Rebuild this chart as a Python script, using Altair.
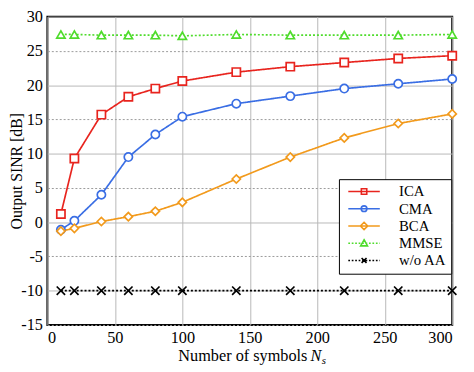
import altair as alt
import pandas as pd

ns = [10, 20, 40, 60, 80, 100, 140, 180, 220, 260, 300]
ica = [1.2, 9.3, 15.7, 18.3, 19.5, 20.6, 21.9, 22.7, 23.3, 23.9, 24.3]
cma = [-1.1, 0.2, 4.0, 9.5, 12.8, 15.4, 17.3, 18.4, 19.5, 20.2, 20.9]
bca = [-1.3, -0.9, 0.1, 0.8, 1.6, 2.9, 6.3, 9.5, 12.3, 14.4, 15.8]
mmse = [27.4, 27.4, 27.3, 27.3, 27.3, 27.2, 27.4, 27.3, 27.3, 27.3, 27.4]
woaa = [-10, -10, -10, -10, -10, -10, -10, -10, -10, -10, -10]

series = ["ICA", "CMA", "BCA", "MMSE", "w/o AA"]
colors = ["#e8241e", "#3a6ee4", "#f29a1c", "#4fdc2c", "#000000"]
dashes = [[1, 0], [1, 0], [1, 0], [2, 2], [2, 2]]
x_ticks = [0, 50, 100, 150, 200, 250, 300]
y_ticks = [-15, -10, -5, 0, 5, 10, 15, 20, 25, 30]

rows = []
for name, vals in zip(series, [ica, cma, bca, mmse, woaa]):
    for n, v in zip(ns, vals):
        rows.append({"Ns": n, "SINR": v, "series": name})
df = pd.DataFrame(rows)

FONT = "Liberation Serif"

X_PATH = "M-1,-1L1,1M-1,1L1,-1"
marker_shapes = ["square", "circle", "diamond", "triangle-up", X_PATH]
marker_sizes = [70, 72, 110, 95, 50]


def solid(a=-3.2, b=3.2):
    return f"M{a},0H{b}"


def dotted(a=-3.2, b=3.2, d=0.35, g=0.35):
    parts = []
    x = a
    while x < b:
        parts.append(f"M{x:.2f},0H{min(x + d, b):.2f}")
        x += d + g
    return "".join(parts)


sq = "M-0.55,-0.55H0.55V0.55H-0.55Z"
ci = "M0.58,0A0.58,0.58 0 1,1 -0.58,0A0.58,0.58 0 1,1 0.58,0Z"
di = "M0,-0.75L0.75,0L0,0.75L-0.75,0Z"
tr = "M0,-0.7L0.7,0.55H-0.7Z"
xx = "M-0.5,-0.5L0.5,0.5M-0.5,0.5L0.5,-0.5"
legend_paths = [solid() + sq, solid() + ci, solid() + di, dotted() + tr, dotted() + xx]

xs = alt.Scale(domain=[0, 300], nice=False, zero=False)
ys = alt.Scale(domain=[-15, 30], nice=False, zero=False)

X = alt.X("Ns:Q", scale=xs, axis=alt.Axis(values=x_ticks, title=None, labelFont=FONT, labelFontSize=16.5,
                                          labelColor="black", labelPadding=5))
Y = alt.Y("SINR:Q", scale=ys,
          axis=alt.Axis(values=y_ticks, title="Output SINR [dB]",
                        labelFont=FONT, labelFontSize=16.5, labelColor="black", labelPadding=5,
                        labelExpr="'' + datum.value",
                        titleFont=FONT, titleFontSize=16, titleFontWeight="normal", titleColor="black",
                        titleX=-23, titleBaseline="bottom", titleAngle=270,
                        gridDash=alt.condition("datum.value % 10 != 0", alt.value([2, 2]), alt.value([])),
                        gridColor=alt.condition("datum.value % 10 != 0", alt.value("#9a9a9a"), alt.value("#b8b8b8"))))

base = alt.Chart(df)

lines = base.mark_line(strokeWidth=1.7).encode(
    x=X, y=Y,
    color=alt.Color("series:N", scale=alt.Scale(domain=series, range=colors), legend=None),
    strokeDash=alt.StrokeDash("series:N", scale=alt.Scale(domain=series, range=dashes), legend=None),
)

points = base.mark_point(filled=True, fill="white", strokeWidth=1.7, opacity=1).encode(
    x=X, y=Y,
    stroke=alt.Stroke("series:N", scale=alt.Scale(domain=series, range=colors), legend=None),
    shape=alt.Shape("series:N", scale=alt.Scale(domain=series, range=marker_shapes), legend=None),
    size=alt.Size("series:N", scale=alt.Scale(domain=series, range=marker_sizes), legend=None),
)

leg = alt.Legend(
    title=None, orient="none", legendX=296, legendY=165,
    labelFont=FONT, labelFontSize=15, labelColor="black",
    symbolSize=100, symbolStrokeWidth=1.6, symbolFillColor="transparent",
    symbolOffset=13, labelOffset=28, rowPadding=1.5, padding=5,
    strokeColor="black", fillColor="white", symbolOpacity=1,
)

legend_layer = base.transform_filter("datum.Ns < 0").mark_point(filled=False, size=100, strokeWidth=1.6).encode(
    x=X, y=Y,
    color=alt.Color("series:N", scale=alt.Scale(domain=series, range=colors), legend=leg),
    shape=alt.Shape("series:N", scale=alt.Scale(domain=series, range=legend_paths), legend=leg),
)

title_df = pd.DataFrame({"t": ["Number of symbols"], "n": ["N"], "s": ["s"]})
tbase = alt.Chart(title_df)
t1 = tbase.mark_text(font=FONT, fontSize=16.5, align="right", baseline="alphabetic", color="black").encode(
    x=alt.value(264), y=alt.value(350), text="t:N")
t2 = tbase.mark_text(font=FONT, fontSize=16.5, fontStyle="italic", align="left", baseline="alphabetic", color="black").encode(
    x=alt.value(267), y=alt.value(350), text="n:N")
t3 = tbase.mark_text(font=FONT, fontSize=11, fontStyle="italic", align="left", baseline="alphabetic", color="black").encode(
    x=alt.value(278.5), y=alt.value(353), text="s:N")

chart = alt.layer(lines, points, legend_layer, t1, t2, t3).resolve_scale(
    color="independent", shape="independent", stroke="independent", size="independent", strokeDash="independent"
).properties(
    width=411, height=313,
    autosize=alt.AutoSizeParams(type="none"),
    padding={"left": 40, "top": 6, "right": 14, "bottom": 45},
).configure_view(
    stroke="black", strokeWidth=2
).configure_axis(
    labelFont=FONT, labelFontSize=16.5, labelColor="black",
    domain=False, ticks=False, grid=True, gridColor="#b8b8b8", gridWidth=1,
    titleFont=FONT, titleFontSize=16, titleFontWeight="normal", titleColor="black",
)

chart.save("out.html", embed_options={"renderer": "svg", "actions": False})
